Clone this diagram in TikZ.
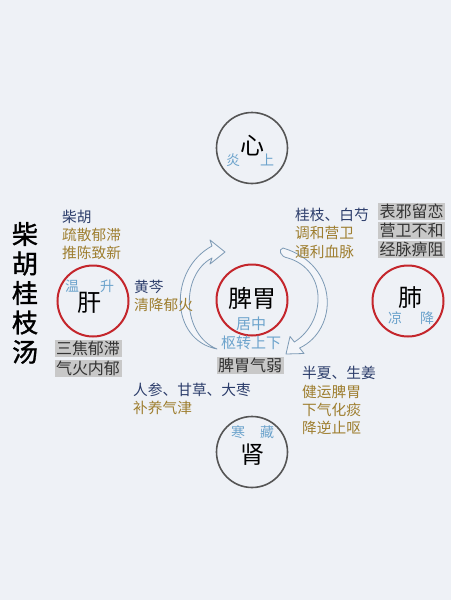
\documentclass[tikz,border=0pt]{standalone}
\usepackage{fontspec}
\setmainfont{Noto Sans CJK SC}
\newfontfamily\titlefont{Noto Sans CJK SC}[FakeBold=1.2]
\definecolor{bg}{HTML}{EEF1F6}
\definecolor{dblue}{HTML}{2C3D6B}
\definecolor{gold}{HTML}{9E7E2F}
\definecolor{lblue}{HTML}{6CA3CC}
\definecolor{redc}{HTML}{C4262C}
\definecolor{grayc}{HTML}{555555}
\definecolor{boxgray}{HTML}{C8C8C8}
\definecolor{arrowc}{HTML}{7D9AB5}
\definecolor{arrowf}{HTML}{F3F5F9}
\begin{document}
\begin{tikzpicture}[x=1pt,y=-1pt,
  txt/.style={inner sep=0pt, font=\fontsize{14.7}{17}\selectfont},
  blu/.style={txt, text=dblue, anchor=west},
  gld/.style={txt, text=gold, anchor=west},
  lb/.style={inner sep=0pt, text=lblue, font=\fontsize{14}{16}\selectfont},
  gbox/.style={fill=boxgray, text=black!80, inner xsep=1.5pt, inner ysep=0.5pt, minimum height=17pt, font=\fontsize{16}{18}\selectfont},
  organR/.style={circle, draw=redc, line width=2pt, minimum size=71pt, inner sep=0pt},
  organG/.style={circle, draw=grayc, line width=1.6pt, minimum size=71pt, inner sep=0pt},
  organT/.style={inner sep=0pt, font=\fontsize{24}{26}\selectfont},
  ttl/.style={inner sep=0pt, font=\titlefont\fontsize{26}{28}\selectfont},
  harrow/.style={draw=arrowc, fill=arrowf, line width=0.8pt, line join=round}]
\fill[bg] (0,0) rectangle (451,600);
\useasboundingbox (0,0) rectangle (451,600);

% title
\node[ttl] (t1) at (25,234) {柴};
\node[ttl] (t2) at (25,263.5) {胡};
\node[ttl] (t3) at (25,293) {桂};
\node[ttl] (t4) at (25,322.5) {枝};
\node[ttl] (t5) at (25,352) {汤};

% hollow arrows around 脾胃
\draw[harrow] (217,349) .. controls (170,340) and (168,270) .. (212,246) -- (210,240) -- (225,252) -- (210,264) -- (212,258) .. controls (180,275) and (182,335) .. (217,349) -- cycle;
\draw[harrow] (283,248) .. controls (340,265) and (338,330) .. (299.6,348) -- (304,353.5) -- (286,354) -- (290,336.5) -- (294.4,342) .. controls (326,322) and (328,270) .. (288,258) .. controls (280,257) and (278,249) .. (283,248) -- cycle;

% organ circles
\node[organG] (xin) at (252,148) {};
\node[organR] (gan) at (93,301) {};
\node[organR] (piwei) at (252,300) {};
\node[organR] (fei) at (408,301) {};
\node[organG] (shen) at (252,452) {};

\node[organT] (xinT) at (252,146) {心};
\node[lb] (yan) at (233,160) {炎};
\node[lb] (shang) at (267,160) {上};

\node[organT] (ganT) at (89,303) {肝};
\node[lb] (wen) at (72,286) {温};
\node[lb] (sheng) at (107,286) {升};

\node[organT] (piweiT) at (252,298) {脾胃};
\node[lb, font=\fontsize{15}{17}\selectfont] (juzhong) at (251,324) {居中};
\node[lb, font=\fontsize{15}{17}\selectfont] (shuzhuan) at (251,343) {枢转上下};

\node[organT] (feiT) at (410,298) {肺};
\node[lb] (liang) at (395,318) {凉};
\node[lb] (jiang) at (427,318) {降};

\node[organT] (shenT) at (252,455) {肾};
\node[lb] (han) at (238,432) {寒};
\node[lb] (cang) at (267,432) {藏};

% herb texts
\node[blu] (chaihu) at (62,217) {柴胡};
\node[gld] (shusan) at (62,235) {疏散郁滞};
\node[gld] (tuichen) at (62,253) {推陈致新};

\node[blu] (huangqin) at (134,287) {黄芩};
\node[gld] (qingjiang) at (134,305) {清降郁火};

\node[blu] (guizhi) at (295,215) {桂枝、白芍};
\node[gld] (tiaohe) at (295,233) {调和营卫};
\node[gld] (tongli) at (295,252) {通利血脉};

\node[blu] (renshen) at (133,390) {人参、甘草、大枣};
\node[gld] (buyang) at (133,408) {补养气津};

\node[blu] (banxia) at (302,373) {半夏、生姜};
\node[gld] (jianyun) at (302,392) {健运脾胃};
\node[gld] (xiaqi) at (302,410) {下气化痰};
\node[gld] (jiangni) at (302,428) {降逆止呕};

% gray boxes
\node[gbox] (sanjiao) at (88,348.5) {三焦郁滞};
\node[gbox] (qihuo) at (88,368) {气火内郁};
\node[gbox] (biaoxie) at (411.5,211) {表邪留恋};
\node[gbox] (yingwei) at (411.5,230) {营卫不和};
\node[gbox] (jingmai) at (411.5,249.5) {经脉痹阻};
\node[gbox] (piweiqi) at (250,365.5) {脾胃气弱};
\end{tikzpicture}
\end{document}
